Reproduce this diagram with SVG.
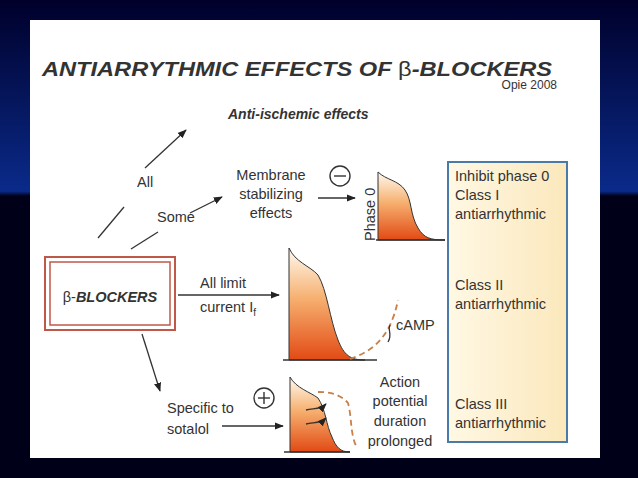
<svg xmlns="http://www.w3.org/2000/svg" width="638" height="478" viewBox="0 0 638 478">
<defs>
<linearGradient id="bg" x1="0" y1="0" x2="0" y2="1">
<stop offset="0" stop-color="#00002a"/><stop offset="0.4" stop-color="#0a2a8a"/><stop offset="0.41" stop-color="#000018"/><stop offset="1" stop-color="#000018"/>
</linearGradient>
<linearGradient id="ap" x1="0" y1="0" x2="0" y2="1">
<stop offset="0" stop-color="#fffaf0"/><stop offset="0.45" stop-color="#f6b070"/><stop offset="1" stop-color="#e24a14"/>
</linearGradient>
<linearGradient id="box" x1="0" y1="0" x2="1" y2="0">
<stop offset="0" stop-color="#fff8e4"/><stop offset="1" stop-color="#fbe8bc"/>
</linearGradient>
<marker id="ah" viewBox="0 0 10 10" refX="9" refY="5" markerWidth="7" markerHeight="7" orient="auto"><path d="M0,1 L10,5 L0,9 Z" fill="#222"/></marker>
<style>
text{font-family:"Liberation Sans",Arial,sans-serif;fill:#333}
.t{font-size:14.5px}
.bi{font-weight:bold;font-style:italic}
.ln{stroke:#333;stroke-width:1.3;fill:none}
.ar{stroke:#333;stroke-width:1.3;fill:none;marker-end:url(#ah)}
.apf{fill:url(#ap);stroke:#333;stroke-width:1}
.dash{stroke:#c8804a;stroke-width:1.8;fill:none;stroke-dasharray:6,4}
</style>
</defs>
<rect width="638" height="478" fill="url(#bg)"/>
<rect x="30" y="20" width="570" height="438" fill="#fff"/>
<g id="title">
<text x="42" y="76" font-size="21" class="bi" textLength="510" lengthAdjust="spacingAndGlyphs">ANTIARRYTHMIC EFFECTS OF <tspan font-style="normal" font-weight="normal">β</tspan>-BLOCKERS</text>
<text x="557" y="89" font-size="12" text-anchor="end">Opie 2008</text>
</g>
<g id="antiischemic"><text x="228" y="119" class="bi" font-size="14">Anti-ischemic effects</text></g>
<g id="connectors">
<line class="ln" x1="98" y1="238" x2="124" y2="207"/>
<line class="ar" x1="145" y1="168" x2="186" y2="130"/>
<line class="ln" x1="131" y1="249" x2="158" y2="232"/>
<line class="ar" x1="190" y1="213" x2="222" y2="197"/>
<line class="ar" x1="318" y1="198" x2="355" y2="198"/>
<line class="ar" x1="178" y1="295" x2="279" y2="295"/>
<line class="ar" x1="142" y1="334" x2="160" y2="391"/>
<line class="ar" x1="222" y1="426" x2="283" y2="426"/>
</g>
<g id="labels">
<text x="137" y="187" class="t">All</text>
<text x="157" y="222" class="t">Some</text>
</g>
<g id="blockers">
<rect x="45" y="257" width="130" height="73" fill="#fff" stroke="#c0584a" stroke-width="2"/>
<rect x="50" y="262" width="120" height="63" fill="none" stroke="#c0584a" stroke-width="1.5"/>
<text x="110" y="302" text-anchor="middle" class="t"><tspan>β-</tspan><tspan class="bi">BLOCKERS</tspan></text>
</g>
<g id="membrane">
<text x="271" y="180" text-anchor="middle" class="t">Membrane</text>
<text x="271" y="199" text-anchor="middle" class="t">stabilizing</text>
<text x="271" y="218" text-anchor="middle" class="t">effects</text>
<circle cx="340" cy="176" r="10" fill="none" stroke="#333" stroke-width="1.4"/>
<line x1="334" y1="176" x2="346" y2="176" stroke="#333" stroke-width="1.4"/>
</g>
<g id="ap1">
<text transform="translate(375,241) rotate(-90)" class="t">Phase 0</text>
<path class="apf" d="M378,240 L378,172 C386,180 398,180 405,190 C412,200 410,215 418,228 C424,238 430,240 445,240 Z"/>
<line class="ln" x1="376" y1="240" x2="445" y2="240"/>
</g>
<g id="ap2">
<path class="apf" d="M289,360 L289,248 C295,262 310,266 318,275 C327,290 330,320 338,340 C344,355 350,360 365,360 Z"/>
<line class="ln" x1="283" y1="360" x2="377" y2="360"/>
<path class="dash" d="M350,359 C370,352 390,340 398,300"/>
<path d="M390,325 C387,330 393,334 388,342" class="ln"/>
<text x="396" y="330" class="t">cAMP</text>
<text x="200" y="288" class="t">All limit</text>
<text x="200" y="312" class="t">current I<tspan font-size="10" dy="4">f</tspan></text>
</g>
<g id="ap3">
<path class="apf" d="M290,452 L290,377 C296,388 310,392 318,398 C326,410 326,425 332,437 C336,447 340,452 350,452 Z"/>
<line class="ln" x1="284" y1="452" x2="350" y2="452"/>
<path class="dash" d="M318,392 C330,392 340,394 348,403 C352,418 350,432 356,446"/>
<path d="M306,410 C314,408 320,410 326,404" class="ln" marker-end="url(#ah)"/>
<path d="M306,424 C314,422 320,424 326,418" class="ln" marker-end="url(#ah)"/>
<text x="167" y="413" class="t">Specific to</text>
<text x="167" y="434" class="t">sotalol</text>
<circle cx="264" cy="398" r="10" fill="none" stroke="#333" stroke-width="1.4"/>
<line x1="258" y1="398" x2="270" y2="398" stroke="#333" stroke-width="1.4"/>
<line x1="264" y1="392" x2="264" y2="404" stroke="#333" stroke-width="1.4"/>
<text x="400" y="387" text-anchor="middle" class="t">Action</text>
<text x="400" y="406" text-anchor="middle" class="t">potential</text>
<text x="400" y="426" text-anchor="middle" class="t">duration</text>
<text x="400" y="446" text-anchor="middle" class="t">prolonged</text>
</g>
<g id="classbox">
<rect x="448" y="162" width="119" height="280" fill="url(#box)" stroke="#4a7aa8" stroke-width="2"/>
<text x="455" y="181" class="t">Inhibit phase 0</text>
<text x="455" y="200" class="t">Class I</text>
<text x="455" y="219" class="t">antiarrhythmic</text>
<text x="455" y="290" class="t">Class II</text>
<text x="455" y="309" class="t">antiarrhythmic</text>
<text x="455" y="409" class="t">Class III</text>
<text x="455" y="428" class="t">antiarrhythmic</text>
</g>
</svg>
